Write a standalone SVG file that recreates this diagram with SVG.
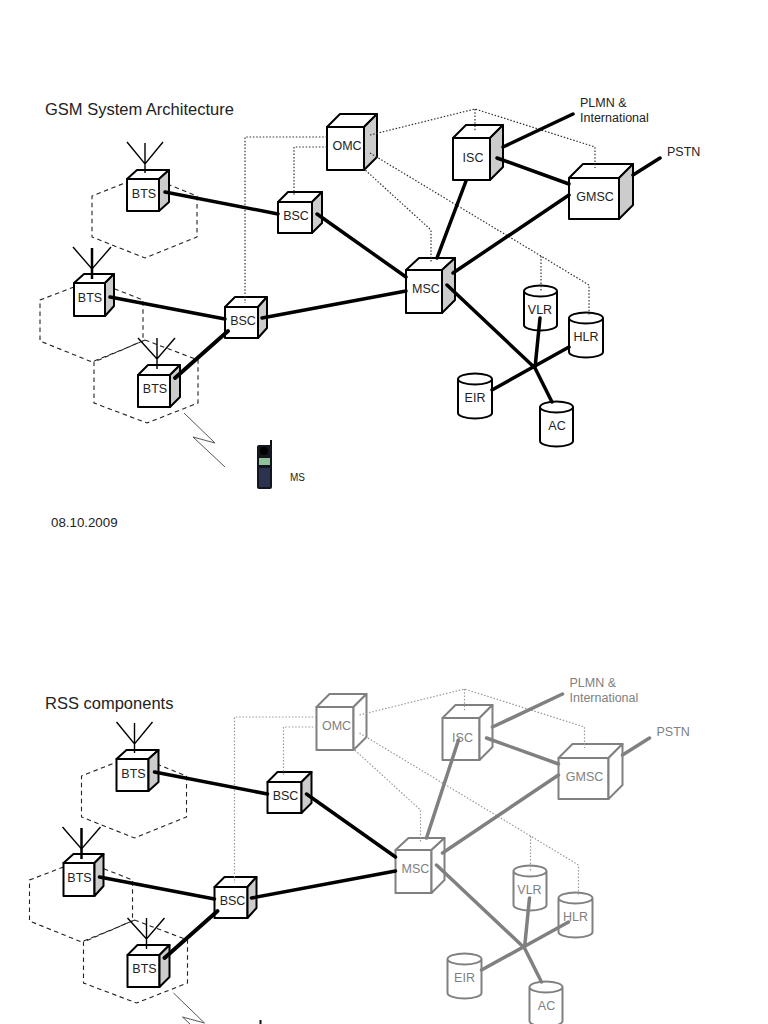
<svg xmlns="http://www.w3.org/2000/svg" width="768" height="1024" viewBox="0 0 768 1024">
<style>
text{font-family:"Liberation Sans",Arial,sans-serif;font-size:12.5px;fill:#222}
.m{text-anchor:middle}
.l{font-size:12.5px}
.t{font-size:16.500px}
rect.bg{fill:#fff}
.f{fill:#fff;stroke:#000;stroke-width:2;stroke-linejoin:round}
.s{fill:#ccc;stroke:#000;stroke-width:2;stroke-linejoin:round}
.c{fill:none;stroke:#000;stroke-width:3.5;stroke-linecap:round}
.d{fill:none;stroke:#333;stroke-width:1.2;stroke-dasharray:1.5 1.8}
.h{fill:none;stroke:#222;stroke-width:1.1;stroke-dasharray:4.5 3.5}
.a{fill:none;stroke:#000;stroke-width:1.4}
.z{fill:none;stroke:#444;stroke-width:.9}
.g text{fill:#808080}
.g .f,.g .s{fill:#fff;stroke:#808080}
.g .c{stroke:#808080}
.gd .d{stroke:#999}
</style>
<rect class="bg" width="768" height="1024"/>

<g id="panel-top">
<text class="t" x="45" y="115">GSM System Architecture</text>
<text x="51" y="527" style="font-size:13.300px">08.10.2009</text>
<g id="cells">
<polygon class="h" points="145,175 197,196 197,237 145,258 92,237 92,196"/>
<polygon class="h" points="92,280 143,300 143,341 92,362 40,341 40,300"/>
<polygon class="h" points="145,340 198,360 198,403 147,423 94,403 94,362"/>
</g>
<g id="bts1"><rect class="f" x="127" y="179" width="32" height="32"/><polygon class="f" points="127,179 137,170 169,170 159,179"/><polygon class="s" points="159,179 169,170 169,202 159,211"/><path class="a" d="M145,143V173M127,142L145,164L163,142"/><text class="m" x="144" y="198">BTS</text></g>
<g id="bts2"><rect class="f" x="74" y="283" width="31" height="33"/><polygon class="f" points="74,283 84,274 114,274 105,283"/><polygon class="s" points="105,283 114,274 114,306 105,316"/><path class="a" d="M73,247L92,269L111,247"/><path class="a" style="stroke-width:2.5" d="M92,248V279"/><text class="m" x="90" y="302">BTS</text></g>
<g id="bts3"><rect class="f" x="138" y="375" width="32" height="32"/><polygon class="f" points="138,375 148,365 180,365 170,375"/><polygon class="s" points="170,375 180,365 180,397 170,407"/><path class="a" d="M157,338V369M138,338L157,359L175,338"/><text class="m" x="155" y="393">BTS</text></g>
<g id="bsc1"><rect class="f" x="278" y="202" width="34" height="31"/><polygon class="f" points="278,202 288,192 322,192 312,202"/><polygon class="s" points="312,202 322,192 322,223 312,233"/><text class="m" x="296" y="220">BSC</text></g>
<g id="bsc2"><rect class="f" x="225" y="307" width="33" height="31"/><polygon class="f" points="225,307 235,297 267,297 258,307"/><polygon class="s" points="258,307 267,297 267,328 258,338"/><text class="m" x="243" y="325">BSC</text></g>
<g id="omc"><rect class="f" x="327" y="127" width="37" height="43"/><polygon class="f" points="327,127 340,114 377,114 364,127"/><polygon class="s" points="364,127 377,114 377,157 364,170"/><text class="m" x="347" y="150">OMC</text></g>
<g id="isc"><rect class="f" x="453" y="138" width="37" height="42"/><polygon class="f" points="453,138 466,125 503,125 490,138"/><polygon class="s" points="490,138 503,125 503,167 490,180"/><text class="m" x="473" y="162">ISC</text></g>
<g id="gmsc"><rect class="f" x="569" y="178" width="50" height="41"/><polygon class="f" points="569,178 583,164 633,164 619,178"/><polygon class="s" points="619,178 633,164 633,205 619,219"/><text class="m" x="595" y="201">GMSC</text></g>
<g id="msc"><rect class="f" x="406" y="270" width="36" height="43"/><polygon class="f" points="406,270 419,258 455,258 442,270"/><polygon class="s" points="442,270 455,258 455,300 442,313"/><text class="m" x="426" y="293">MSC</text></g>
<g id="vlr"><path class="f" d="M524,291V325A16.500,5.500 0 0 0 557,325V291A16.500,5.500 0 0 0 524,291A16.500,5.500 0 0 0 557,291"/><text class="m" x="540" y="314">VLR</text></g>
<g id="hlr"><path class="f" d="M569,318V352A17,5.500 0 0 0 603,352V318A17,5.500 0 0 0 569,318A17,5.500 0 0 0 603,318"/><text class="m" x="586" y="341">HLR</text></g>
<g id="eir"><path class="f" d="M458,379V413A17,5.500 0 0 0 492,413V379A17,5.500 0 0 0 458,379A17,5.500 0 0 0 492,379"/><text class="m" x="475" y="402">EIR</text></g>
<g id="ac"><path class="f" d="M540,407V441A16.500,5.500 0 0 0 573,441V407A16.500,5.500 0 0 0 540,407A16.500,5.500 0 0 0 573,407"/><text class="m" x="557" y="430">AC</text></g>
<g id="connectors-top">
<path class="d" d="M327,137H245V303M327,147H294V196"/>
<path class="d" d="M370,135L475,109L595,147V168M475,109V131"/>
<path class="d" d="M370,153L541,256L589,285V316M541,256V292"/>
<path class="d" d="M363,168L431,230V262"/>
<path class="c" d="M165,192L278,214M317,214L406,277M262,318L406,291M110,297L225,319"/>
<path class="c" style="stroke-width:4" d="M175,378L228,331"/>
<path class="c" d="M466,181L437,258M569,195L453,273M497,158L569,184M503,147L573,114M633,175L660,158"/>
<path class="c" d="M447,285L535,368L552,402M540,318L535,368M492,390L569,347"/>
</g>
<path id="radio-link" class="z" d="M184,413L215,443L193,437L225,467"/>
<g id="ms">
<rect x="270" y="440" width="2" height="8" fill="#111"/>
<rect x="257" y="445" width="15" height="44" rx="2" fill="#14161f"/>
<circle cx="264" cy="451" r="4" fill="#000"/>
<rect x="259" y="458" width="11" height="7" fill="#8fc29a"/>
<rect x="259" y="468" width="11" height="19" fill="#2b3350"/>
<text x="290" y="481" style="font-size:10px">MS</text>
</g>
<text class="l" x="580" y="107">PLMN &amp;</text>
<text class="l" x="580" y="122">International</text>
<text class="l" x="667" y="156">PSTN</text>
</g>

<g id="panel-bottom">
<text class="t" x="45" y="709">RSS components</text>
<g transform="translate(-10.500,580)">
<g id="cells-b">
<polygon class="h" points="145,175 197,196 197,237 145,258 92,237 92,196"/>
<polygon class="h" points="92,280 143,300 143,341 92,362 40,341 40,300"/>
<polygon class="h" points="145,340 198,360 198,403 147,423 94,403 94,362"/>
</g>
<g id="bts1-b"><rect class="f" x="127" y="179" width="32" height="32"/><polygon class="f" points="127,179 137,170 169,170 159,179"/><polygon class="s" points="159,179 169,170 169,202 159,211"/><path class="a" d="M145,143V173M127,142L145,164L163,142"/><text class="m" x="144" y="198">BTS</text></g>
<g id="bts2-b"><rect class="f" x="74" y="283" width="31" height="33"/><polygon class="f" points="74,283 84,274 114,274 105,283"/><polygon class="s" points="105,283 114,274 114,306 105,316"/><path class="a" d="M73,247L92,269L111,247"/><path class="a" style="stroke-width:2.5" d="M92,248V279"/><text class="m" x="90" y="302">BTS</text></g>
<g id="bts3-b"><rect class="f" x="138" y="375" width="32" height="32"/><polygon class="f" points="138,375 148,365 180,365 170,375"/><polygon class="s" points="170,375 180,365 180,397 170,407"/><path class="a" d="M157,338V369M138,338L157,359L175,338"/><text class="m" x="155" y="393">BTS</text></g>
<g id="bsc1-b"><rect class="f" x="278" y="202" width="34" height="31"/><polygon class="f" points="278,202 288,192 322,192 312,202"/><polygon class="s" points="312,202 322,192 322,223 312,233"/><text class="m" x="296" y="220">BSC</text></g>
<g id="bsc2-b"><rect class="f" x="225" y="307" width="33" height="31"/><polygon class="f" points="225,307 235,297 267,297 258,307"/><polygon class="s" points="258,307 267,297 267,328 258,338"/><text class="m" x="243" y="325">BSC</text></g>
<g class="g">
<g id="omc-b"><rect class="f" x="327" y="127" width="37" height="43"/><polygon class="f" points="327,127 340,114 377,114 364,127"/><polygon class="s" points="364,127 377,114 377,157 364,170"/><text class="m" x="347" y="150">OMC</text></g>
<g id="isc-b"><rect class="f" x="453" y="138" width="37" height="42"/><polygon class="f" points="453,138 466,125 503,125 490,138"/><polygon class="s" points="490,138 503,125 503,167 490,180"/><text class="m" x="473" y="162">ISC</text></g>
<g id="gmsc-b"><rect class="f" x="569" y="178" width="50" height="41"/><polygon class="f" points="569,178 583,164 633,164 619,178"/><polygon class="s" points="619,178 633,164 633,205 619,219"/><text class="m" x="595" y="201">GMSC</text></g>
<g id="msc-b"><rect class="f" x="406" y="270" width="36" height="43"/><polygon class="f" points="406,270 419,258 455,258 442,270"/><polygon class="s" points="442,270 455,258 455,300 442,313"/><text class="m" x="426" y="293">MSC</text></g>
<g id="vlr-b"><path class="f" d="M524,291V325A16.500,5.500 0 0 0 557,325V291A16.500,5.500 0 0 0 524,291A16.500,5.500 0 0 0 557,291"/><text class="m" x="540" y="314">VLR</text></g>
<g id="hlr-b"><path class="f" d="M569,318V352A17,5.500 0 0 0 603,352V318A17,5.500 0 0 0 569,318A17,5.500 0 0 0 603,318"/><text class="m" x="586" y="341">HLR</text></g>
<g id="eir-b"><path class="f" d="M458,379V413A17,5.500 0 0 0 492,413V379A17,5.500 0 0 0 458,379A17,5.500 0 0 0 492,379"/><text class="m" x="475" y="402">EIR</text></g>
<g id="ac-b"><path class="f" d="M540,407V441A16.500,5.500 0 0 0 573,441V407A16.500,5.500 0 0 0 540,407A16.500,5.500 0 0 0 573,407"/><text class="m" x="557" y="430">AC</text></g>
</g>
<g id="connectors-bottom" class="gd">
<path class="d" d="M327,137H245V303M327,147H294V196"/>
<path class="d" d="M370,135L475,109L595,147V168M475,109V131"/>
<path class="d" d="M370,153L541,256L589,285V316M541,256V292"/>
<path class="d" d="M363,168L431,230V262"/>
<path class="c" d="M165,192L278,214M317,214L406,277M262,318L406,291M110,297L225,319"/>
<path class="c" style="stroke-width:4" d="M175,378L228,331"/>
<g class="g">
<path class="c" d="M469,160L437,258M569,195L453,273M497,158L569,184M503,147L573,114M633,175L660,158"/>
<path class="c" d="M447,285L535,368L552,402M540,318L535,368M492,390L579,342"/>
</g>
</g>
<path id="radio-link-b" class="z" d="M184,413L215,443L193,437L225,467"/>
<rect id="ms-b" x="270" y="440" width="2" height="8" fill="#111"/>
<g class="g">
<text class="l" x="580" y="107">PLMN &amp;</text>
<text class="l" x="580" y="122">International</text>
<text class="l" x="667" y="156">PSTN</text>
</g>
</g>
</g>
</svg>
